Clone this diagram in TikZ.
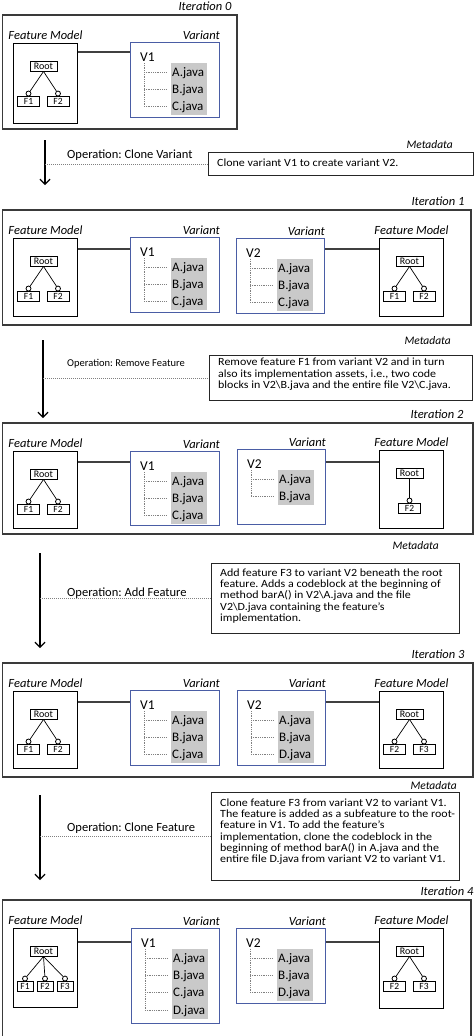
\documentclass[tikz,border=0pt]{standalone}
\usepackage{fontspec}
\setmainfont{Carlito}
\newfontfamily\mdfont[FakeStretch=1.09]{Carlito}
\usetikzlibrary{arrows.meta,calc}
\frenchspacing
\definecolor{vblue}{HTML}{4A5DA5}
\definecolor{fgrey}{HTML}{C9C9C9}
\definecolor{framec}{HTML}{3A3A3A}
\definecolor{connc}{HTML}{404040}
\tikzset{
  itframe/.style={draw=framec, line width=1.6pt, anchor=north west, inner sep=0pt},
  itlabel/.style={font=\fontsize{12.5}{13}\selectfont\itshape, anchor=base east, inner sep=0pt},
  boxlabel/.style={font=\fontsize{12.5}{13}\selectfont\itshape, inner sep=0pt},
  fmframe/.style={draw=black, line width=1pt, anchor=north west, inner sep=0pt, minimum width=64pt},
  vframe/.style={draw=vblue, line width=1pt, anchor=north west, inner sep=0pt},
  rootbox/.style={draw, line width=0.9pt, minimum width=27pt, minimum height=10pt, inner sep=0pt, font=\fontsize{10}{10}\selectfont},
  featbox/.style={draw, line width=0.9pt, minimum width=22pt, minimum height=10pt, inner sep=0pt, font=\fontsize{9.5}{10}\selectfont},
  featthin/.style={featbox, minimum width=16pt},
  optcirc/.style={circle, draw, fill=white, line width=0.8pt, minimum size=5pt, inner sep=0pt},
  fmedge/.style={line width=0.7pt},
  conn/.style={draw=connc, line width=1.3pt},
  vname/.style={font=\fontsize{13.5}{14}\selectfont, anchor=base west, inner sep=0pt},
  fname/.style={font=\fontsize{13}{14}\selectfont, anchor=base west, inner sep=0pt},
  treeline/.style={draw=gray, line width=0.6pt, dash pattern=on 1pt off 0.8pt},
  filebg/.style={fill=fgrey, draw=none},
  flow/.style={line width=1.2pt, -{Straight Barb[length=5pt,width=10pt]}},
  dotline/.style={draw=gray, line width=0.8pt, dash pattern=on 1pt off 1pt},
  oplabel/.style={font=\fontsize{12.5}{13}\selectfont, anchor=base west, inner sep=0pt},
  mdframe/.style={draw=black!85, line width=1pt, anchor=north west, inner sep=0pt},
  mdtext/.style={font=\mdfont\fontsize{11}{11.3}\selectfont, align=left, anchor=north west, inner sep=0pt},
  mdlabel/.style={font=\fontsize{11.5}{12}\selectfont\itshape, anchor=base east, inner sep=0pt},
}
\newcommand\FMbox[4]{%
  \node[fmframe, minimum height=#4pt] (#1) at (#2,#3) {};
  \node[boxlabel, anchor=base] at ($(#1.north)+(0,-4)$) {Feature Model};
  \node[rootbox] (#1r) at ($(#1.north west)+(30.5,23)$) {Root};
}
\newcommand\Feat[5]{%
  \node[#5] (#1#2) at ($(#1.north west)+(#3,58.5)$) {#4};
  \node[optcirc] (#1#2c) at ($(#1#2.north)+(0,-2.5)$) {};
  \draw[fmedge] (#1r.south) -- (#1#2c);
}
\newcommand\Variant[7]{%
  \node[vframe, minimum width=#7pt, minimum height=#4pt] (#1) at (#2,#3) {};
  \node[boxlabel, anchor=base east] at ($(#1.north east)+(0,-3)$) {Variant};
  \node[vname] (#1n) at ($(#1.north west)+(10,19.5)$) {#5};
  \foreach \f [count=\i] in {#6} {
    \pgfmathsetmacro\yy{30+17.3*(\i-1)}
    \fill[filebg] ($(#1.north west)+(41,\yy-8.65)$) rectangle ($(#1.north west)+(77,\yy+8.65)$);
    \draw[treeline] ($(#1.north west)+(14,\yy)$) -- ($(#1.north west)+(37,\yy)$);
    \node[fname] (#1f\i) at ($(#1.north west)+(42,\yy+4.2)$) {\f};
    \xdef\lastyy{\yy}
  }
  \draw[treeline] ($(#1.north west)+(14,21)$) -- ($(#1.north west)+(14,\lastyy)$);
}
\begin{document}
\begin{tikzpicture}[x=1pt,y=-1pt]
\useasboundingbox (0,0) rectangle (474,1036);
\clip (0,0) rectangle (474,1036);
\fill[white] (0,0) rectangle (474,1036);

% ---------------- Iteration 0
\node[itframe, minimum width=234.5pt, minimum height=114pt] (it0) at (1.5,14) {};
\node[itlabel] at ($(it0.north east)+(-6,-4)$) {Iteration 0};
\FMbox{fmA}{13}{43}{80}
\Feat{fmA}{a}{15.5}{F1}{featbox}
\Feat{fmA}{b}{45}{F2}{featbox}
\Variant{vA}{130}{42}{75}{V1}{A.java,B.java,C.java}{89}
\coordinate (cA) at (0,52);
\draw[conn] (fmA.east |- cA) -- (vA.west |- cA);

% ---------------- Operation 0
\coordinate (a0s) at (45,140);
\coordinate (a0e) at (45,185);
\draw[flow] (a0s) -- (a0e);
\node[oplabel] (op0) at (67,158.5) {Operation: Clone Variant};
\node[mdframe, minimum width=265pt, minimum height=23pt] (md0) at (208,152) {};
\node[mdtext] (mt0) at ($(md0.north west)+(9,6.4)$) {Clone variant V1 to create variant V2.};
\node[mdlabel] (ml0) at ($(md0.north east)+(-21,-4)$) {Metadata};
\draw[dotline] (a0s |- md0.west) -- (md0.west);

% ---------------- Iteration 1
\node[itframe, minimum width=468.5pt, minimum height=115pt] (it1) at (1.5,209) {};
\node[itlabel] at ($(it1.north east)+(-7,-4)$) {Iteration 1};
\FMbox{fmB}{13}{238}{78}
\Feat{fmB}{a}{15.5}{F1}{featbox}
\Feat{fmB}{b}{45}{F2}{featbox}
\Variant{vB}{130}{237}{75}{V1}{A.java,B.java,C.java}{89}
\Variant{vC}{236}{238}{75}{V2}{A.java,B.java,C.java}{88}
\FMbox{fmC}{379}{238}{78}
\Feat{fmC}{a}{15.5}{F1}{featbox}
\Feat{fmC}{b}{45}{F2}{featbox}
\coordinate (cB) at (0,249);
\draw[conn] (fmB.east |- cB) -- (vB.west |- cB);
\draw[conn] (vC.east |- cB) -- (fmC.west |- cB);

% ---------------- Operation 1
\coordinate (a1s) at (43,340);
\coordinate (a1e) at (43,418);
\draw[flow] (a1s) -- (a1e);
\node[oplabel, font=\fontsize{10.5}{11}\selectfont] (op1) at (67,366.5) {Operation: Remove Feature};
\node[mdframe, minimum width=263pt, minimum height=45pt] (md1) at (209,355) {};
\node[mdtext, font=\mdfont\fontsize{11}{11.6}\selectfont] (mt1) at ($(md1.north west)+(9,2.6)$) {Remove feature F1 from variant V2 and in turn\\also its implementation assets, i.e., two code\\blocks in V2\textbackslash B.java and the entire file V2\textbackslash C.java.};
\node[mdlabel] (ml1) at ($(md1.north east)+(-22,-11)$) {Metadata};
\draw[dotline] (a1s |- md1.west) -- (md1.west);

% ---------------- Iteration 2
\node[itframe, minimum width=470.5pt, minimum height=111pt] (it2) at (1.5,422) {};
\node[itlabel] at ($(it2.north east)+(-10,-4)$) {Iteration 2};
\FMbox{fmD}{13}{451}{77}
\Feat{fmD}{a}{15.5}{F1}{featbox}
\Feat{fmD}{b}{45}{F2}{featbox}
\Variant{vD}{130}{451}{74}{V1}{A.java,B.java,C.java}{89}
\Variant{vE}{237}{449}{75}{V2}{A.java,B.java}{88}
\FMbox{fmE}{379}{450}{78}
\Feat{fmE}{b}{30.5}{F2}{featbox}
\coordinate (cD) at (0,462);
\draw[conn] (fmD.east |- cD) -- (vD.west |- cD);
\draw[conn] (vE.east |- cD) -- (fmE.west |- cD);

% ---------------- Operation 2
\coordinate (a2s) at (40,553);
\coordinate (a2e) at (40,648);
\draw[flow] (a2s) -- (a2e);
\node[oplabel] (op2) at (67,596) {Operation: Add Feature};
\node[mdframe, minimum width=248pt, minimum height=70pt] (md2) at (211,563) {};
\node[mdtext] (mt2) at ($(md2.north west)+(9,5.4)$) {Add feature F3 to variant V2 beneath the root\\feature. Adds a codeblock at the beginning of\\method barA() in V2\textbackslash A.java and the file\\V2\textbackslash D.java containing the feature’s\\implementation.};
\node[mdlabel] (ml2) at ($(md2.north east)+(-21,-14)$) {Metadata};
\draw[dotline] (a2s |- md2.west) -- (md2.west);

% ---------------- Iteration 3
\node[itframe, minimum width=470.5pt, minimum height=114pt] (it3) at (1.5,662) {};
\node[itlabel] at ($(it3.north east)+(-9,-4)$) {Iteration 3};
\FMbox{fmF}{13}{691}{77}
\Feat{fmF}{a}{15.5}{F1}{featbox}
\Feat{fmF}{b}{45}{F2}{featbox}
\Variant{vF}{130}{690}{75}{V1}{A.java,B.java,C.java}{89}
\Variant{vG}{237}{690}{75}{V2}{A.java,B.java,D.java}{88}
\FMbox{fmG}{379}{691}{77}
\Feat{fmG}{b}{15.5}{F2}{featbox}
\Feat{fmG}{c}{45}{F3}{featbox}
\coordinate (cF) at (0,702);
\draw[conn] (fmF.east |- cF) -- (vF.west |- cF);
\draw[conn] (vG.east |- cF) -- (fmG.west |- cF);

% ---------------- Operation 3
\coordinate (a3s) at (40,795);
\coordinate (a3e) at (40,880);
\draw[flow] (a3s) -- (a3e);
\node[oplabel] (op3) at (67,831) {Operation: Clone Feature};
\node[mdframe, minimum width=248pt, minimum height=88pt] (md3) at (211,792) {};
\node[mdtext] (mt3) at ($(md3.north west)+(9,6.4)$) {Clone feature F3 from variant V2 to variant V1.\\The feature is added as a subfeature to the root-\\feature in V1. To add the feature’s\\implementation, clone the codeblock in the\\beginning of method barA() in A.java and the\\entire file D.java from variant V2 to variant V1.};
\node[mdlabel] (ml3) at ($(md3.north east)+(-3,-3)$) {Metadata};
\draw[dotline] (a3s |- md3.west) -- (md3.west);

% ---------------- Iteration 4
\node[itframe, minimum width=468.5pt, minimum height=160pt] (it4) at (1.5,899) {};
\node[itlabel] at ($(it4.north east)+(2,-4)$) {Iteration 4};
\FMbox{fmH}{13}{928}{79}
\Feat{fmH}{a}{12}{F1}{featthin}
\Feat{fmH}{b}{32}{F2}{featthin}
\Feat{fmH}{c}{52}{F3}{featthin}
\Variant{vH}{131}{928}{95}{V1}{A.java,B.java,C.java,D.java}{88}
\Variant{vI}{236}{928}{75}{V2}{A.java,B.java,D.java}{89}
\FMbox{fmI}{379}{928}{80}
\Feat{fmI}{b}{15.5}{F2}{featbox}
\Feat{fmI}{c}{45}{F3}{featbox}
\coordinate (cH) at (0,942);
\draw[conn] (fmH.east |- cH) -- (vH.west |- cH);
\draw[conn] (vI.east |- cH) -- (fmI.west |- cH);
\end{tikzpicture}
\end{document}
